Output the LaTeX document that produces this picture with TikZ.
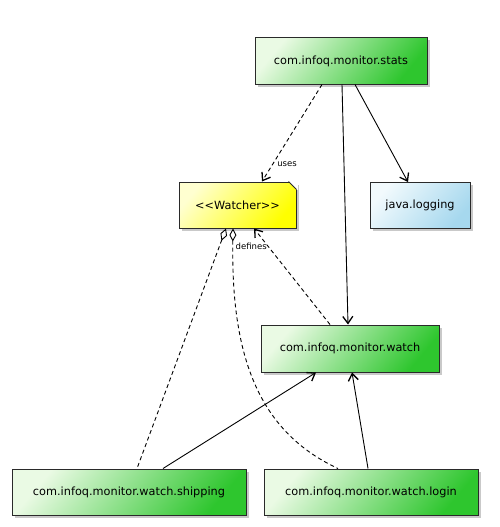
\documentclass[tikz,border=0pt]{standalone}
\usepackage{fontspec}
\setmainfont{DejaVu Sans}
\usetikzlibrary{arrows.meta,shadows,calc}
\definecolor{gLight}{HTML}{EAFAE4}
\definecolor{gMid}{HTML}{8EE28A}
\definecolor{gDark}{HTML}{2EC62E}
\definecolor{yLight}{HTML}{FFFFD0}
\definecolor{yMid}{HTML}{FFFF70}
\definecolor{yDark}{HTML}{FFFF00}
\definecolor{bLight}{HTML}{F2FAFD}
\definecolor{bMid}{HTML}{D0ECF7}
\definecolor{bDark}{HTML}{A6D8EE}
\definecolor{edgeGray}{HTML}{2A2A2A}
\tikzset{
  pkg/.style={draw=edgeGray, line width=1pt, minimum height=46pt, inner sep=0pt,
    font=\fontsize{11.3}{13}\selectfont,
    drop shadow={shadow xshift=2.5pt, shadow yshift=-2.5pt, opacity=0.35, fill=black!60}},
  greenpkg/.style={pkg, top color=gLight, middle color=gMid, bottom color=gDark, shading angle=50},
  bluepkg/.style={pkg, top color=bLight, middle color=bMid, bottom color=bDark, shading angle=50},
  yellowpkg/.style={pkg, top color=yLight, middle color=yMid, bottom color=yDark, shading angle=50},
  dep/.style={line width=0.9pt, draw=black, -{Straight Barb[length=7pt,width=10pt,line width=1.3pt]}},
  dashdep/.style={dep, dash pattern=on 4pt off 3pt},
  agg/.style={line width=0.9pt, draw=black, dash pattern=on 4pt off 3pt,
    {Diamond[open,fill=white,length=13pt,width=7pt,line width=0.9pt]}-},
  lbl/.style={font=\fontsize{8.5}{10}\selectfont, inner sep=1pt}
}
\begin{document}
\begin{tikzpicture}[x=1pt,y=-1pt]
\useasboundingbox (0,0) rectangle (500,527);
\fill[white] (0,0) rectangle (500,527);

\node[greenpkg, minimum width=172pt] (stats) at (341,61) {com.infoq.monitor.stats};
\node[yellowpkg, minimum width=117pt] (watcher) at (237.5,205) {{<}{<}Watcher{>}{>}};
\fill[white] ([xshift=-8pt]watcher.north east) -- ([xshift=0.6pt,yshift=-0.6pt]watcher.north east) -- ([yshift=-8pt]watcher.north east) -- cycle;
\fill[white] ([xshift=-8.5pt,yshift=-0.5pt]watcher.north east) rectangle ([xshift=1.5pt,yshift=1pt]watcher.north east);
\fill[white] ([xshift=-0.5pt,yshift=1pt]watcher.north east) rectangle ([xshift=1.5pt,yshift=-8.5pt]watcher.north east);
\draw[edgeGray, line width=1pt] ([xshift=-8pt]watcher.north east) -- ([yshift=-8pt]watcher.north east);
\node[bluepkg, minimum width=100pt] (java) at (420,205.5) {java.logging};
\node[greenpkg, minimum width=178pt, minimum height=47pt] (watch) at (350,348.5) {com.infoq.monitor.watch};
\node[greenpkg, minimum width=234pt] (shipping) at (129,492) {com.infoq.monitor.watch.shipping};
\node[greenpkg, minimum width=214pt] (login) at (371,492) {com.infoq.monitor.watch.login};

\draw[dashdep] ([xshift=-19pt]stats.south) -- node[lbl, pos=0.82, right=3pt] (uses) {uses} ([xshift=24.5pt]watcher.north);
\draw[dep] ([xshift=1pt]stats.south) -- ([xshift=-2pt]watch.north);
\draw[dep] ([xshift=14pt]stats.south) -- ([xshift=-12pt]java.north);
\draw[dashdep] ([xshift=-20pt]watch.north) -- ([xshift=16.5pt]watcher.south);
\draw[agg] ([xshift=-11.5pt]watcher.south) -- ([xshift=8pt]shipping.north);
\draw[agg] ([xshift=-4.5pt]watcher.south) .. controls (231,350) and (255,430) .. ([xshift=-33pt]login.north);
\node[lbl, anchor=west] (defines) at (234.5,246) {defines};
\draw[dep] ([xshift=34pt]shipping.north) -- ([xshift=-34pt]watch.south);
\draw[dep] ([xshift=-3pt]login.north) -- ([xshift=2pt]watch.south);
\end{tikzpicture}
\end{document}
